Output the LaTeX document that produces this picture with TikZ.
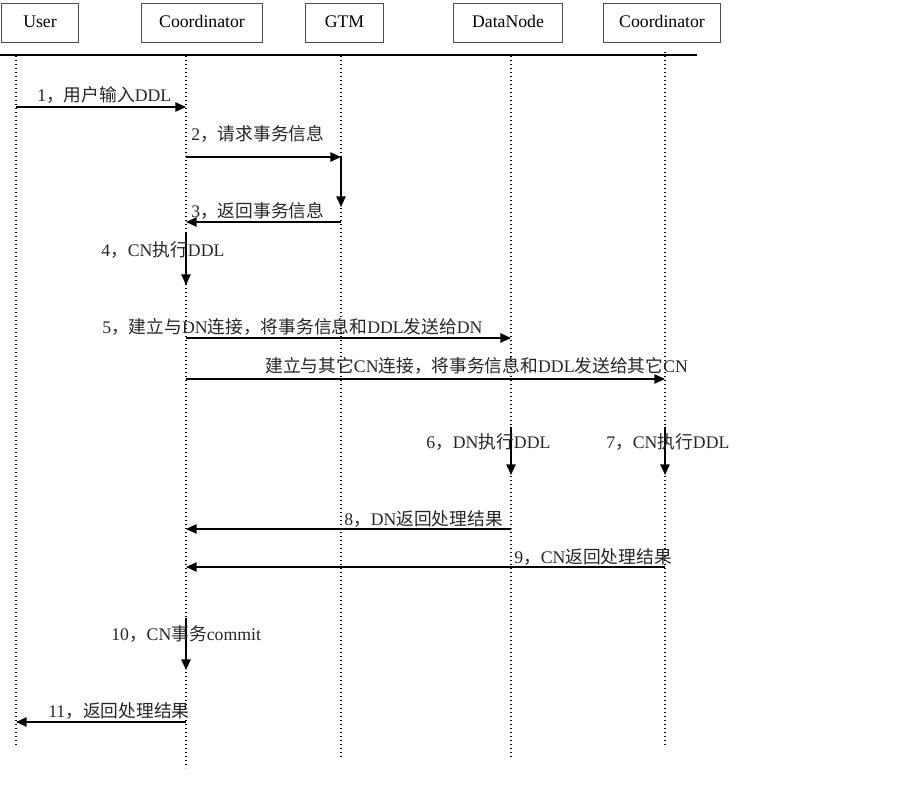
\documentclass[tikz,border=0pt]{standalone}
\usepackage{fontspec}
\setmainfont{Liberation Serif}
\newfontfamily\zhfont{Noto Sans CJK SC}
\newcommand{\zh}[1]{{\zhfont #1}}
\usetikzlibrary{arrows.meta}

\begin{document}
\begin{tikzpicture}[x=0.75pt, y=-0.75pt, >={Triangle[length=8pt,width=7pt]},
  font=\fontsize{13.3}{16}\selectfont,
  actor/.style={draw=black!70, line width=0.8pt, minimum height=29.25pt, inner sep=0pt,
    text height=0.8em, text depth=0.18em, anchor=north west},
  life/.style={line width=1.2pt, dash pattern=on 1pt off 2pt},
  msg/.style={->, line width=1.2pt},
  lbl/.style={anchor=base west, inner sep=0pt, text=black!85}]

  \useasboundingbox (0,0) rectangle (900,788);

  % actors
  \node[actor, minimum width=57.75pt] (user)  at (1,3)   {User};
  \node[actor, minimum width=90.75pt] (coord) at (141,3) {Coordinator};
  \node[actor, minimum width=58.5pt]  (gtm)   at (305,3) {GTM};
  \node[actor, minimum width=81.75pt] (dn)    at (453,3) {DataNode};
  \node[actor, minimum width=87.75pt] (cn)    at (603,3) {Coordinator};

  \coordinate (hl) at (0,55);
  \coordinate (hr) at (697,55);
  \draw[line width=1.5pt] (hl) -- (hr);

  % lifelines
  \coordinate (uTop) at (16,56);   \coordinate (uBot) at (16,745);
  \coordinate (cTop) at (186,56);  \coordinate (cBot) at (186,768);
  \coordinate (gTop) at (341,56);  \coordinate (gBot) at (341,758);
  \coordinate (dTop) at (511,56);  \coordinate (dBot) at (511,758);
  \coordinate (kTop) at (665,52);  \coordinate (kBot) at (665,745);
  \draw[life] (uTop) -- (uBot);
  \draw[life] (cTop) -- (cBot);
  \draw[life] (gTop) -- (gBot);
  \draw[life] (dTop) -- (dBot);
  \draw[life] (kTop) -- (kBot);

  % message rows
  \coordinate (r1) at (0,107);
  \coordinate (r2) at (0,157);   \coordinate (r2e) at (0,207);
  \coordinate (r3) at (0,222);
  \coordinate (r4) at (0,232);   \coordinate (r4e) at (0,285);
  \coordinate (r5) at (0,338);
  \coordinate (r5b) at (0,379);
  \coordinate (r6) at (0,427);   \coordinate (r6e) at (0,475);
  \coordinate (r8) at (0,529);
  \coordinate (r9) at (0,567);
  \coordinate (r10) at (0,618);  \coordinate (r10e) at (0,670);
  \coordinate (r11) at (0,722);

  \draw[msg] (uTop |- r1) -- (cTop |- r1);
  \draw[msg] (cTop |- r2) -- (gTop |- r2);
  \draw[msg] (gTop |- r2) -- (gTop |- r2e);
  \draw[msg] (gTop |- r3) -- (cTop |- r3);
  \draw[msg] (cTop |- r4) -- (cTop |- r4e);
  \draw[msg] (cTop |- r5) -- (dTop |- r5);
  \draw[msg] (cTop |- r5b) -- (kTop |- r5b);
  \draw[msg] (dTop |- r6) -- (dTop |- r6e);
  \draw[msg] (kTop |- r6) -- (kTop |- r6e);
  \draw[msg] (dTop |- r8) -- (cTop |- r8);
  \draw[msg] (kTop |- r9) -- (cTop |- r9);
  \draw[msg] (cTop |- r10) -- (cTop |- r10e);
  \draw[msg] (cTop |- r11) -- (uTop |- r11);

  % labels
  \node[lbl] (l1)  at (37,102)  {1\zh{，用户输入}DDL};
  \node[lbl] (l2)  at (191,141) {2\zh{，请求事务信息}};
  \node[lbl] (l3)  at (191,218) {3\zh{，返回事务信息}};
  \node[lbl] (l4)  at (101,257) {4\zh{，}CN\zh{执行}DDL};
  \node[lbl] (l5)  at (102,333) {5\zh{，建立与}DN\zh{连接，将事务信息和}DDL\zh{发送给}DN};
  \node[lbl] (l5b) at (265,372) {\zh{建立与其它}CN\zh{连接，将事务信息和}DDL\zh{发送给其它}CN};
  \node[lbl] (l6)  at (426,448) {6\zh{，}DN\zh{执行}DDL};
  \node[lbl] (l7)  at (606,448) {7\zh{，}CN\zh{执行}DDL};
  \node[lbl] (l8)  at (344,525) {8\zh{，}DN\zh{返回处理结果}};
  \node[lbl] (l9)  at (514,563) {9\zh{，}CN\zh{返回处理结果}};
  \node[lbl] (l10) at (111,640) {10\zh{，}CN\zh{事务}commit};
  \node[lbl] (l11) at (48,717)  {11\zh{，返回处理结果}};

\end{tikzpicture}
\end{document}
